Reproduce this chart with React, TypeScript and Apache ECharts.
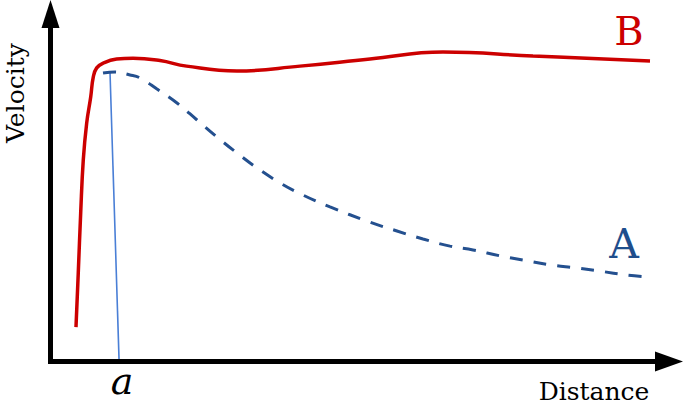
import React, { useEffect, useRef } from "react";
import * as echarts from "echarts";

// Curve B (solid red): [distance, velocity]
const curveB: number[][] = [
  [4.12, 9.9], [4.49, 25.5], [4.88, 42.7], [5.3, 58.0], [5.85, 68.6], [6.5, 76.1],
  [6.92, 81.9], [7.47, 84.5], [8.54, 85.9], [10.7, 87.05], [13.34, 87.3], [17.7, 86.6],
  [22.0, 85.0], [30.15, 83.6], [40.34, 85.0], [51.66, 87.05],
  [63.46, 89.06], [78.01, 87.9], [96.93, 86.5],
];

// Curve A (dashed blue)
const curveA: number[][] = [
  [8.49, 83.0], [10.43, 83.3], [12.85, 82.45], [14.47, 81.6], [17.22, 78.4], [20.45, 74.4],
  [23.69, 69.5], [26.92, 64.6], [30.15, 60.0], [33.39, 55.7], [37.11, 51.4], [40.82, 47.9],
  [45.19, 44.5], [51.66, 40.1], [56.02, 37.55], [60.23, 35.25], [64.59, 33.2], [68.31, 32.1],
  [72.68, 30.4], [76.4, 29.2], [80.76, 27.8], [85.13, 26.9], [88.84, 26.0], [93.21, 24.9],
  [96.93, 24.3],
];

// Thin marker line down to point "a"
const markerLine: number[][] = [
  [9.62, 83.3],
  [11.08, 0.7],
];

const labels = {
  x: "Distance",
  y: "Velocity",
  a: "a",
  A: "A",
  B: "B",
};

export default function App() {
  const ref = useRef<HTMLDivElement>(null);
  useEffect(() => {
    if (!ref.current) return;
    const chart = echarts.init(ref.current, null, { renderer: "svg" });
    const family = "DejaVu Serif";
    const txt = (text: string, x: number, y: number, size: number, fill: string, extra: any = {}) => ({
      type: "text",
      x,
      y,
      rotation: extra.rotation || 0,
      style: {
        text,
        fontFamily: family,
        fontSize: size,
        fontStyle: extra.italic ? "italic" : "normal",
        fill,
        align: "center",
        verticalAlign: "middle",
      },
    });
    chart.setOption({
      animation: false,
      backgroundColor: "#ffffff",
      grid: { left: 50.5, right: 16, top: 14, bottom: 45.5, containLabel: false },
      xAxis: {
        type: "value",
        min: 0,
        max: 100,
        axisLine: {
          show: true,
          symbol: ["none", "triangle"],
          symbolSize: [20, 28],
          lineStyle: { color: "#000", width: 5, cap: "square" },
        },
        axisTick: { show: false },
        axisLabel: { show: false },
        splitLine: { show: false },
      },
      yAxis: {
        type: "value",
        min: 0,
        max: 100,
        axisLine: {
          show: true,
          symbol: ["none", "triangle"],
          symbolSize: [18, 28],
          lineStyle: { color: "#000", width: 5, cap: "square" },
        },
        axisTick: { show: false },
        axisLabel: { show: false },
        splitLine: { show: false },
      },
      series: [
        {
          name: "B",
          type: "line",
          data: curveB,
          smooth: 0.45,
          showSymbol: false,
          lineStyle: { color: "#cc0000", width: 3.5 },
          z: 3,
        },
        {
          name: "A",
          type: "line",
          data: curveA,
          smooth: 0.4,
          showSymbol: false,
          lineStyle: { color: "#24508f", width: 3, type: [13, 11] },
          z: 3,
        },
        {
          name: "a-line",
          type: "line",
          data: markerLine,
          showSymbol: false,
          lineStyle: { color: "#4a7fd6", width: 1.6 },
          z: 2,
        },
      ],
      graphic: [
        txt(labels.B, 629, 31, 40, "#cc0000"),
        txt(labels.A, 624, 244, 41, "#1f4e8c"),
        txt(labels.a, 122, 381, 38, "#000", { italic: true }),
        txt(labels.x, 594, 391, 25, "#000"),
        txt(labels.y, 15, 93, 25, "#000", { rotation: Math.PI / 2 }),
      ],
    });
    return () => chart.dispose();
  }, []);
  return (
    <div
      ref={ref}
      style={{ position: "fixed", left: 0, top: 0, width: 685, height: 407 }}
    />
  );
}
